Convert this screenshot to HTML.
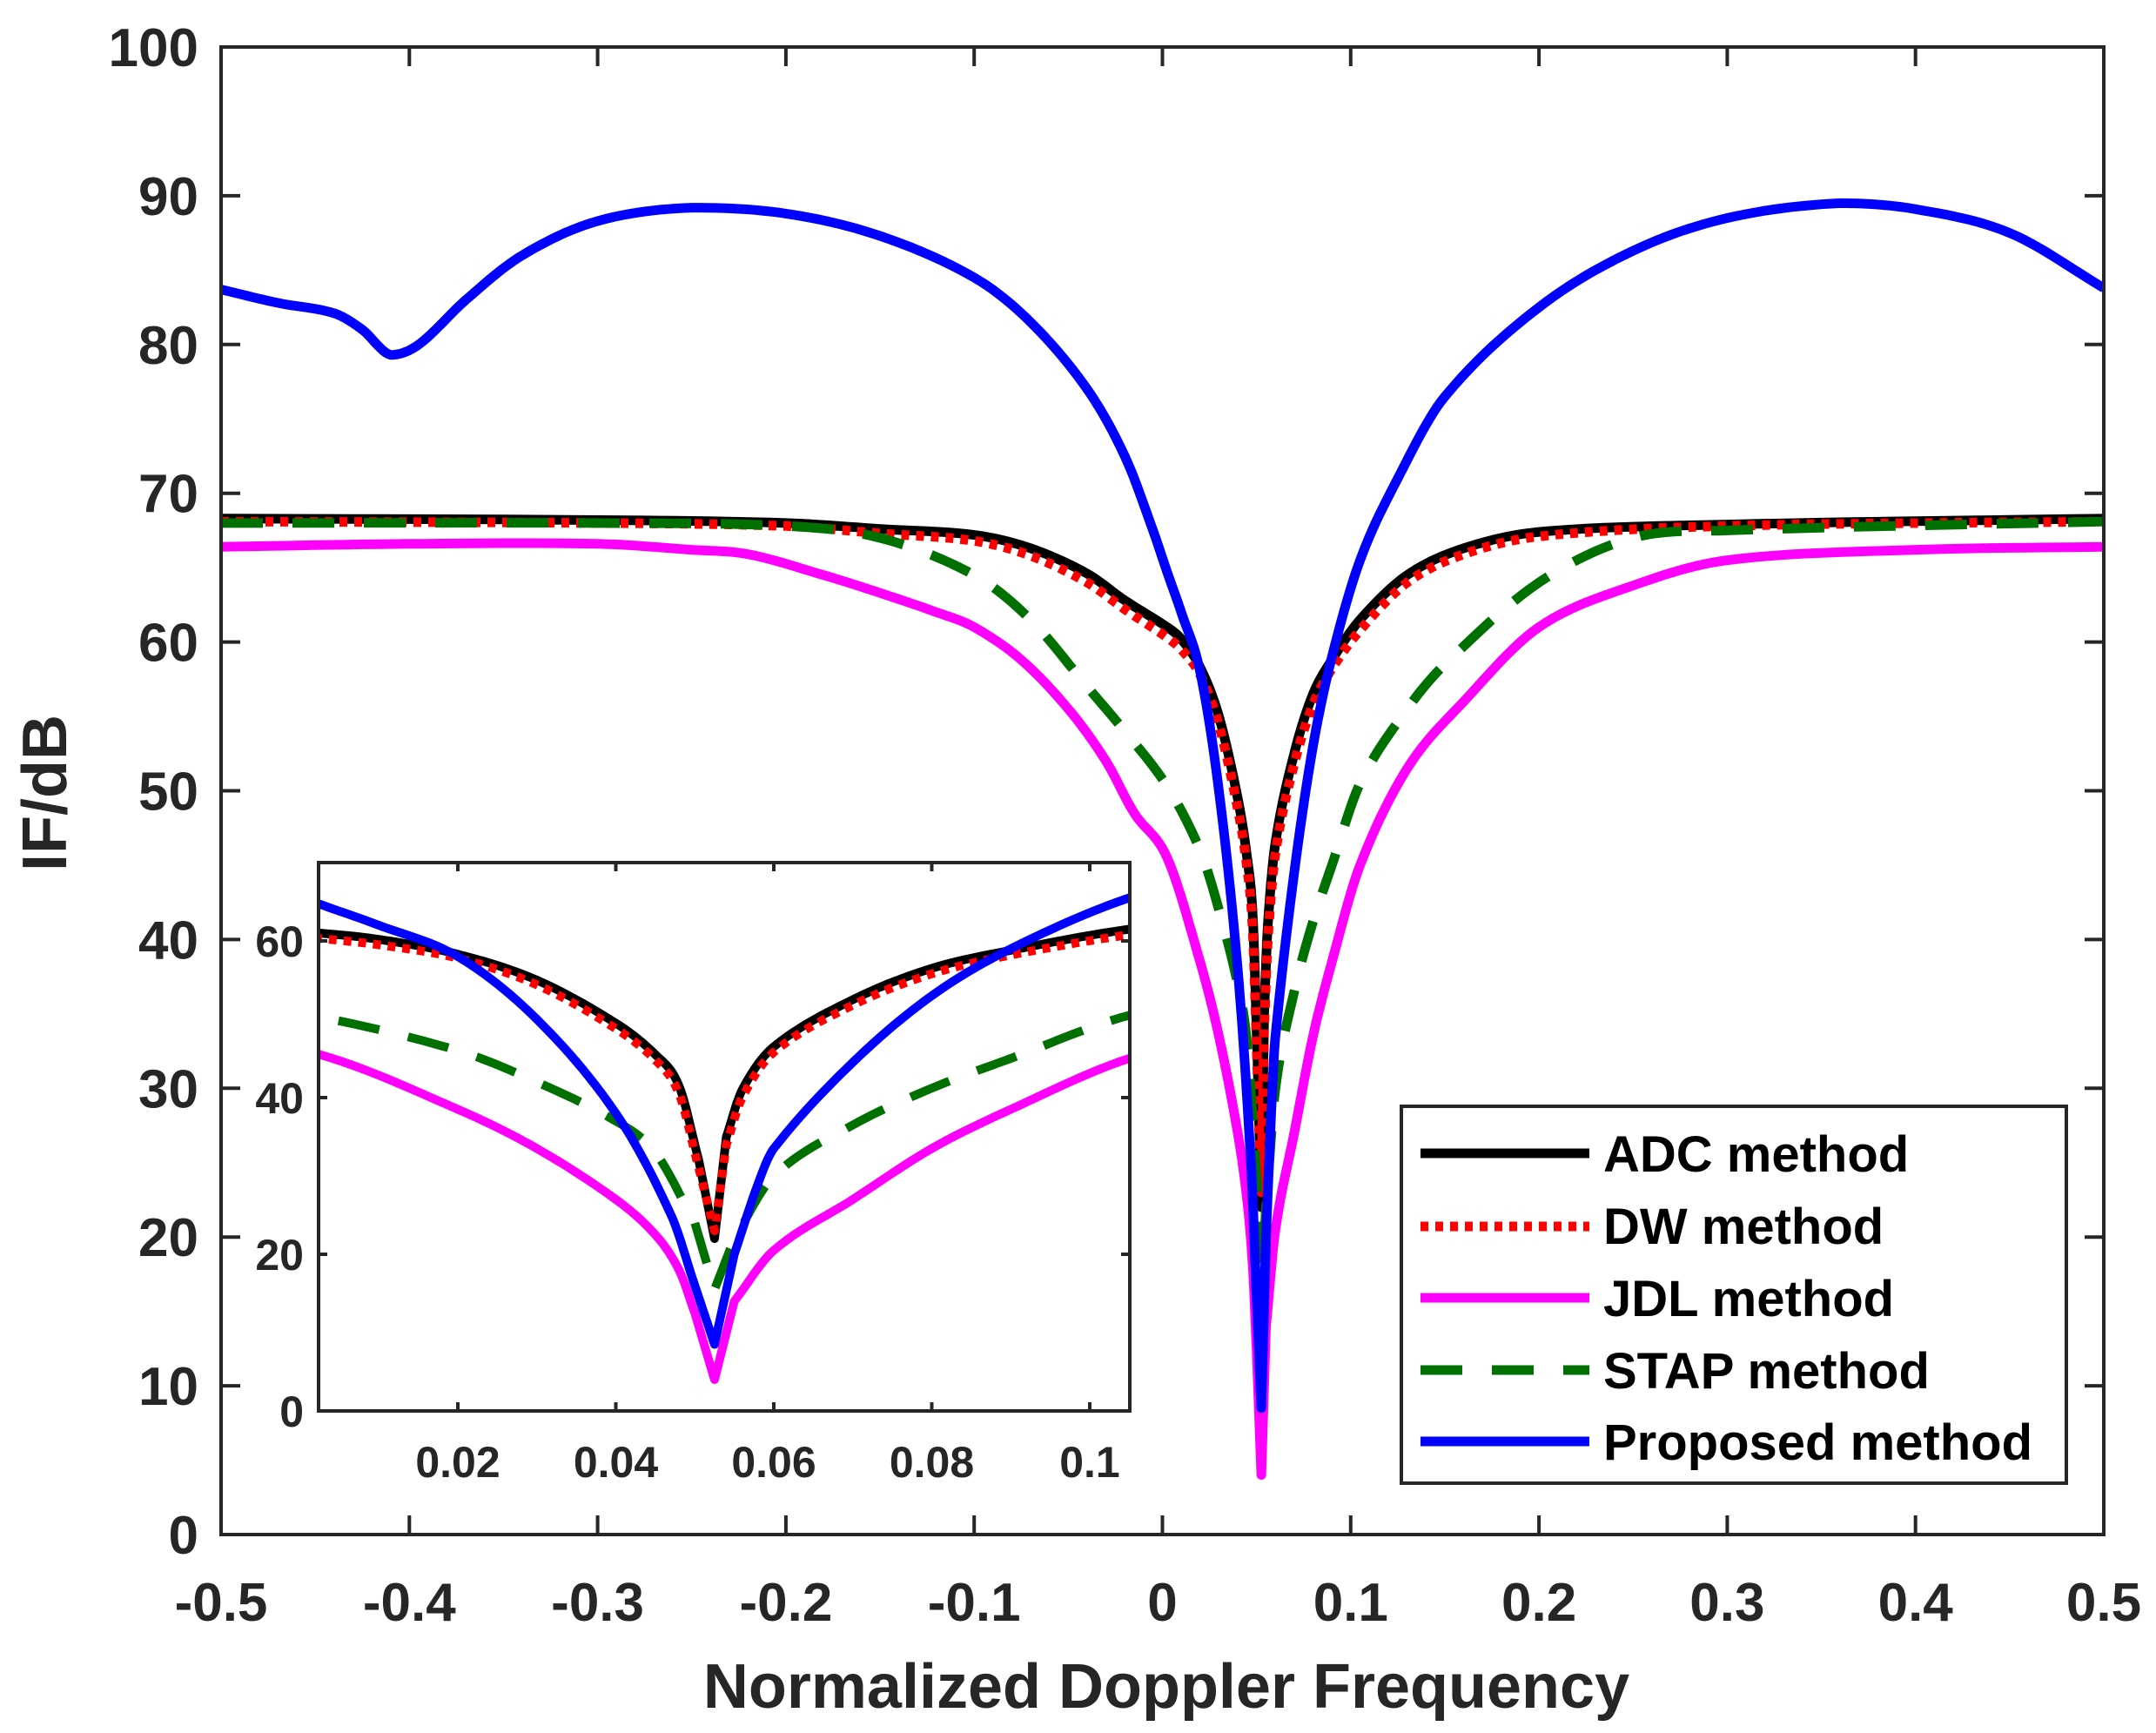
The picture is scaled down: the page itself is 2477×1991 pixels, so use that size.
<!DOCTYPE html>
<html><head><meta charset="utf-8">
<style>
html,body{margin:0;padding:0;background:#fff;}
svg{display:block;}
text{font-family:"Liberation Sans",Arial,sans-serif;font-weight:bold;fill:#262626;}
</style></head>
<body>
<svg id="s" width="2477" height="1991" viewBox="0 0 2477 1991" xmlns="http://www.w3.org/2000/svg">
<defs>
<clipPath id="cm"><rect x="254" y="54" width="2163" height="1709"/></clipPath>
<clipPath id="ci"><rect x="366" y="991" width="932" height="630"/></clipPath>
</defs>
<rect x="0" y="0" width="2477" height="1991" fill="#fff"/>
<g id="main" clip-path="url(#cm)"></g>
<g id="axes"></g>
<rect x="366" y="991" width="932" height="630" fill="#fff" stroke="#262626" stroke-width="4"/>
<g id="ins" clip-path="url(#ci)"></g>
<g id="iax"></g>
<text x="1340" y="1962" font-size="72" text-anchor="middle">Normalized Doppler Frequency</text>
<text x="0" y="0" font-size="72" text-anchor="middle" transform="translate(76,911) rotate(-90)">IF/dB</text>
<rect x="1610" y="1271" width="764" height="433" fill="#fff" stroke="#262626" stroke-width="4"/>
<g id="leg"></g>
<text x="1842" y="1346" font-size="58" style="fill:#000">ADC method</text>
<text x="1842" y="1429" font-size="58" style="fill:#000">DW method</text>
<text x="1842" y="1512" font-size="58" style="fill:#000">JDL method</text>
<text x="1842" y="1595" font-size="58" style="fill:#000">STAP method</text>
<text x="1842" y="1677" font-size="58" style="fill:#000">Proposed method</text>
</svg>
<script>
var NS="http://www.w3.org/2000/svg";
function el(p,t,a){var e=document.createElementNS(NS,t);for(var k in a)e.setAttribute(k,a[k]);p.appendChild(e);return e;}
var S={
adc:[[-0.5,68.3],[-0.3,68.2],[-0.2,68],[-0.15,67.6],[-0.1,67.2],[-0.07,66.3],[-0.04,64.6],[-0.02,62.8],[0.0025,61],[0.01,60.2],[0.02,58.3],[0.03,55],[0.04,49.5],[0.045,45.5],[0.048,41.5],[0.0505,32],[0.0525,22],[0.054,35],[0.056,41],[0.06,46.5],[0.07,52.5],[0.08,56.5],[0.09,58.8],[0.105,61.5],[0.13,64.5],[0.16,66.3],[0.2,67.4],[0.3,67.9],[0.5,68.3]],
dw:[[-0.5,68.1],[-0.3,68.0],[-0.2,67.8],[-0.15,67.3],[-0.1,66.8],[-0.07,65.8],[-0.04,64],[-0.02,62.2],[0.0025,60.3],[0.01,59.5],[0.02,57.8],[0.03,54.4],[0.04,48.8],[0.045,44.8],[0.048,40.5],[0.0505,31],[0.0525,23],[0.054,34],[0.056,40],[0.06,45.8],[0.07,51.8],[0.08,55.8],[0.09,58.2],[0.105,60.8],[0.13,64],[0.16,65.9],[0.2,67.1],[0.3,67.8],[0.5,68.1]],
jdl:[[-0.5,66.4],[-0.4,66.6],[-0.3,66.6],[-0.25,66.2],[-0.22,65.9],[-0.18,64.5],[-0.15,63.3],[-0.12,62],[-0.1,61],[-0.075,58.8],[-0.05,55.5],[-0.03,52],[-0.015,48.5],[0.0025,45.5],[0.02,38.5],[0.03,33.5],[0.04,27],[0.045,22.5],[0.048,18],[0.05,12.5],[0.0525,4],[0.055,14],[0.06,20.5],[0.07,27],[0.08,33.5],[0.09,38.5],[0.105,45],[0.13,51.5],[0.16,56],[0.2,61],[0.25,63.8],[0.3,65.5],[0.4,66.2],[0.5,66.4]],
stap:[[-0.5,68],[-0.3,68],[-0.2,67.8],[-0.15,67],[-0.1,64.5],[-0.07,61.5],[-0.04,57],[-0.02,54],[0.0025,50.3],[0.02,46],[0.03,42],[0.04,37],[0.045,33],[0.05,24],[0.0525,15.5],[0.055,22],[0.06,30],[0.07,36.5],[0.08,41.2],[0.09,45],[0.105,50.5],[0.13,55.5],[0.15,58.5],[0.2,64],[0.25,67],[0.3,67.5],[0.5,68.1]],
pro:[[-0.5,83.7],[-0.47,82.8],[-0.44,82.1],[-0.425,81],[-0.41,79.3],[-0.395,80],[-0.37,83],[-0.34,86],[-0.3,88.3],[-0.25,89.2],[-0.2,88.8],[-0.15,87.3],[-0.1,84.5],[-0.07,81.5],[-0.04,77],[-0.02,72.5],[-0.005,67.5],[0.0025,64.7],[0.01,62],[0.02,58],[0.03,50],[0.04,38],[0.047,25],[0.05,16],[0.0525,8.5],[0.055,20],[0.058,29],[0.06,33.5],[0.07,44.5],[0.08,53],[0.09,59],[0.105,65.5],[0.125,71],[0.15,76.5],[0.2,82.5],[0.25,86.3],[0.3,88.5],[0.36,89.5],[0.4,89.1],[0.45,87.5],[0.5,83.8]]
};
var st={adc:{c:"#000",d:""},dw:{c:"#ff0000",d:"9 8"},jdl:{c:"#ff00ff",d:""},stap:{c:"#007000",d:"48 34"},pro:{c:"#0000ff",d:""}};
function path(pts,X,Y){var s="";
 for(var i=0;i<pts.length-1;i++){var p0=pts[Math.max(0,i-1)],p1=pts[i],p2=pts[i+1],p3=pts[Math.min(pts.length-1,i+2)];
  var sharp=(Math.abs(p1[0]-0.0525)<1e-6||Math.abs(p2[0]-0.0525)<1e-6);
  var n=sharp?1:12;
  for(var j=0;j<=n;j++){if(j==0&&i>0)continue;var t=j/n,x,y;
   if(sharp){x=p1[0]+(p2[0]-p1[0])*t;y=p1[1]+(p2[1]-p1[1])*t;}
   else{
    var h=p2[0]-p1[0];
    var m1=(p2[1]-p0[1])/(p2[0]-p0[0]||1),m2=(p3[1]-p1[1])/(p3[0]-p1[0]||1);
    var d=(p2[1]-p1[1])/h; if(d*m1<0)m1=0;if(d*m2<0)m2=0;
    if(Math.abs(p0[0]-0.0525)<1e-6)m1=d; if(Math.abs(p3[0]-0.0525)<1e-6)m2=d;
    var t2=t*t,t3=t2*t;x=p1[0]+h*t;
    y=(2*t3-3*t2+1)*p1[1]+(t3-2*t2+t)*h*m1+(-2*t3+3*t2)*p2[1]+(t3-t2)*h*m2;}
   s+=(s?"L":"M")+X(x).toFixed(1)+","+Y(y).toFixed(1);}
 }return s;}
var MX=function(f){return 254+(f+0.5)*2163;},MY=function(v){return 1763-v*17.09;};
var IX=function(f){return 526+(f-0.02)*9075;},IY=function(v){return 1621-v*9.0;};
var order=["adc","dw","jdl","stap","pro"];
var gm=document.getElementById("main"),gi=document.getElementById("ins");
order.forEach(function(k){
 var a={d:path(S[k],MX,MY),fill:"none",stroke:st[k].c,"stroke-width":11,"stroke-linejoin":"round"};
 if(st[k].d)a["stroke-dasharray"]=st[k].d;
 el(gm,"path",a);
 var b={d:path(S[k],IX,IY),fill:"none",stroke:st[k].c,"stroke-width":10,"stroke-linejoin":"round"};
 if(st[k].d)b["stroke-dasharray"]=st[k].d;
 el(gi,"path",b);
});
var ax=document.getElementById("axes"),C="#262626";
el(ax,"rect",{x:254,y:54,width:2163,height:1709,fill:"none",stroke:C,"stroke-width":4});
for(var i=0;i<=10;i++){var f=-0.5+i*0.1,x=MX(f);
 el(ax,"line",{x1:x,y1:1763,x2:x,y2:1741,stroke:C,"stroke-width":4});
 el(ax,"line",{x1:x,y1:54,x2:x,y2:76,stroke:C,"stroke-width":4});
 var lab=(Math.abs(f)<1e-9)?"0":f.toFixed(1);
 el(ax,"text",{x:x,y:1862,"font-size":62,"text-anchor":"middle"}).textContent=lab;}
for(var i=0;i<=10;i++){var v=i*10,y=MY(v);
 el(ax,"line",{x1:254,y1:y,x2:276,y2:y,stroke:C,"stroke-width":4});
 el(ax,"line",{x1:2417,y1:y,x2:2395,y2:y,stroke:C,"stroke-width":4});
 el(ax,"text",{x:228,y:y+22,"font-size":62,"text-anchor":"end"}).textContent=""+v;}
var ia=document.getElementById("iax");
[0.02,0.04,0.06,0.08,0.1].forEach(function(f){var x=IX(f);
 el(ia,"line",{x1:x,y1:1621,x2:x,y2:1611,stroke:C,"stroke-width":4});
 el(ia,"line",{x1:x,y1:991,x2:x,y2:1001,stroke:C,"stroke-width":4});
 el(ia,"text",{x:x,y:1697,"font-size":50,"text-anchor":"middle"}).textContent=(f==0.1?"0.1":f.toFixed(2));});
[0,20,40,60].forEach(function(v){var y=IY(v);
 el(ia,"line",{x1:366,y1:y,x2:376,y2:y,stroke:C,"stroke-width":4});
 el(ia,"line",{x1:1298,y1:y,x2:1288,y2:y,stroke:C,"stroke-width":4});
 el(ia,"text",{x:349,y:y+18,"font-size":50,"text-anchor":"end"}).textContent=""+v;});
el(ia,"rect",{x:366,y:991,width:932,height:630,fill:"none",stroke:C,"stroke-width":4});
var lg=document.getElementById("leg"),ly=[1325,1409,1491,1574,1656];
order.forEach(function(k,i){var a={x1:1632,y1:ly[i],x2:1826,y2:ly[i],stroke:st[k].c,"stroke-width":11};
 if(st[k].d)a["stroke-dasharray"]=st[k].d;el(lg,"line",a);});
</script>
</body></html>
